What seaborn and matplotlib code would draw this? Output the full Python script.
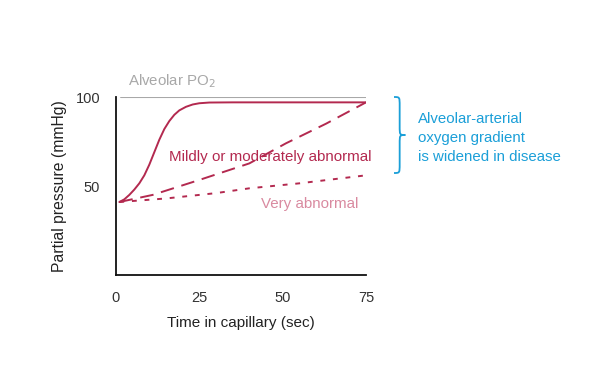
"""Alveolar-capillary oxygen uptake: normal vs diseased diffusion."""

import matplotlib

matplotlib.use("Agg")
import matplotlib.pyplot as plt
from matplotlib.path import Path
from matplotlib.patches import PathPatch
import pandas as pd
import seaborn as sns

# values
normal_time = [1, 2.5, 4, 5.5, 7, 8.5, 10, 11.5, 13, 14.5, 16, 17.5, 19, 21, 23, 25, 28, 35, 75]
normal_po2 = [41, 42.5, 45, 48, 51.5, 56, 62, 69, 76, 82, 86.5, 90, 92.5, 94.5, 95.8, 96.5, 96.9, 97, 97]

mild_time = [1, 11, 25, 40, 51, 63, 75]
mild_po2 = [41, 45, 53.4, 62.7, 74, 85, 97]

severe_time = [1, 15, 30, 40, 55, 75]
severe_po2 = [41, 43, 46, 48.7, 51.5, 56]

alveolar_time = [1.5, 75]
alveolar_po2 = [100, 100]

x_ticks = [0, 25, 50, 75]
y_ticks = [0, 50, 100]
y_tick_labels = ["", "50", "100"]

RED = "#b3294f"
PINK = "#d98aa0"
BLUE = "#1b9fd8"
GREY = "#a8a8a8"


def draw_brace(ax, x, y0, y1, w, r):
    # right-pointing curly brace, data coordinates
    ym = (y0 + y1) / 2
    xm = x + w / 2
    verts = [
        (x, y1),
        (xm, y1), (xm, y1), (xm, y1 - r),
        (xm, ym + r),
        (xm, ym), (xm, ym), (x + w, ym),
        (xm, ym), (xm, ym), (xm, ym - r),
        (xm, y0 + r),
        (xm, y0), (xm, y0), (x, y0),
    ]
    codes = [Path.MOVETO,
             Path.CURVE4, Path.CURVE4, Path.CURVE4,
             Path.LINETO,
             Path.CURVE4, Path.CURVE4, Path.CURVE4,
             Path.CURVE4, Path.CURVE4, Path.CURVE4,
             Path.LINETO,
             Path.CURVE4, Path.CURVE4, Path.CURVE4]
    ax.add_patch(PathPatch(Path(verts, codes), fill=False, edgecolor=BLUE,
                           linewidth=1.3, clip_on=False))


def main():
    sns.set_style("white")
    plt.rcParams["font.family"] = ["Liberation Sans", "DejaVu Sans"]

    fig = plt.figure(figsize=(6, 3.65), dpi=100)
    ax = fig.add_axes([0.1933, 0.2466, 0.4167, 0.4876])

    alveolar = pd.DataFrame({"t": alveolar_time, "po2": alveolar_po2})
    normal = pd.DataFrame({"t": normal_time, "po2": normal_po2})
    mild = pd.DataFrame({"t": mild_time, "po2": mild_po2})
    severe = pd.DataFrame({"t": severe_time, "po2": severe_po2})

    sns.lineplot(data=alveolar, x="t", y="po2", color=GREY, linewidth=1.5, ax=ax)
    sns.lineplot(data=normal, x="t", y="po2", color=RED, linewidth=1.4, ax=ax)
    sns.lineplot(data=mild, x="t", y="po2", color=RED, linewidth=1.4, ax=ax)
    ax.lines[-1].set_dashes([7, 4])
    sns.lineplot(data=severe, x="t", y="po2", color=RED, linewidth=1.4, ax=ax)
    ax.lines[-1].set_dashes([2.5, 4])

    ax.set_xlim(0, 75)
    ax.set_ylim(0, 100)
    ax.set_xticks(x_ticks)
    ax.set_yticks(y_ticks)
    ax.set_yticklabels(y_tick_labels)
    for side in ["top", "right"]:
        ax.spines[side].set_visible(False)
    for side in ["left", "bottom"]:
        ax.spines[side].set_linewidth(1.3)
        ax.spines[side].set_color("#111111")
    ax.tick_params(direction="out", length=6.5, width=1.3, color="#111111",
                   labelsize=10.5, labelcolor="#333333", pad=5)
    ax.set_xlabel("Time in capillary (sec)", fontsize=11, color="#222222", labelpad=8)
    ax.set_ylabel("Partial pressure (mmHg)", fontsize=11.3, color="#222222", labelpad=6)

    ax.text(3.5, 104, "Alveolar PO$_2$", color=GREY, fontsize=10.8, va="bottom", ha="left",
            clip_on=False)
    ax.text(16, 66.5, "Mildly or moderately abnormal", color=RED, fontsize=10.9,
            va="center", ha="left")
    ax.text(43.5, 40, "Very abnormal", color=PINK, fontsize=10.9, va="center", ha="left")

    draw_brace(ax, 83.4, 57.3, 100, 3.4, 5)
    ax.text(90.5, 77, "Alveolar-arterial\noxygen gradient\nis widened in disease",
            color=BLUE, fontsize=10.8, va="center", ha="left", linespacing=1.45,
            clip_on=False)

    fig.savefig("out.png", dpi=100)
    plt.close(fig)


if __name__ == "__main__":
    main()
